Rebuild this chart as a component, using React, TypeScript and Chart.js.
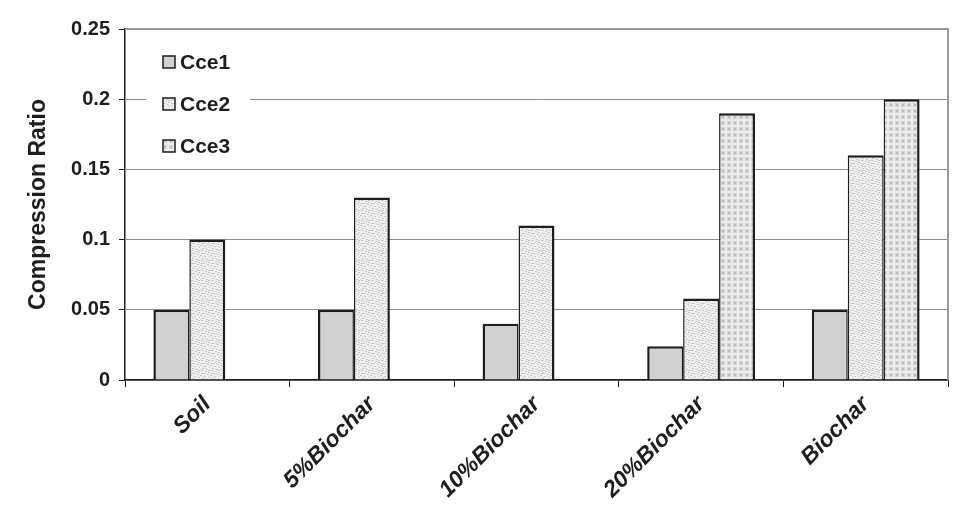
import React, { useEffect, useRef } from 'react';
import { Chart, registerables } from 'chart.js';

Chart.register(...registerables);

const categories = ['Soil', '5%Biochar', '10%Biochar', '20%Biochar', 'Biochar'];
const seriesNames = ['Cce1', 'Cce2', 'Cce3'];
const cce1 = [0.05, 0.05, 0.04, 0.024, 0.05];
const cce2 = [0.1, 0.13, 0.11, 0.058, 0.16];
const cce3: (number | null)[] = [null, null, null, 0.19, 0.2];
const yTickLabels = ['0', '0.05', '0.1', '0.15', '0.2', '0.25'];

const FONT = '"Liberation Sans", Arial, Helvetica, sans-serif';
const INK = '#1e1e1e';

function makeStipple(): CanvasPattern | string {
  const c = document.createElement('canvas');
  c.width = 10;
  c.height = 10;
  const g = c.getContext('2d');
  if (!g) return '#e6e6e6';
  g.fillStyle = '#f1f1f1';
  g.fillRect(0, 0, 10, 10);
  g.fillStyle = '#c6c6c6';
  const dots = [
    [1, 0], [5, 1], [8, 0], [3, 3], [7, 4], [0, 5], [4, 6], [9, 7], [2, 8], [6, 9], [8, 2], [1, 3],
  ];
  dots.forEach(([x, y]) => g.fillRect(x, y, 2, 1));
  g.fillStyle = '#d8d8d8';
  const dots2 = [[3, 0], [6, 3], [2, 6], [8, 6], [5, 8], [0, 9]];
  dots2.forEach(([x, y]) => g.fillRect(x, y, 1, 1));
  return g.createPattern(c, 'repeat') || '#e6e6e6';
}

function makeGrid(): CanvasPattern | string {
  const c = document.createElement('canvas');
  c.width = 6;
  c.height = 6;
  const g = c.getContext('2d');
  if (!g) return '#dddddd';
  g.fillStyle = '#ececec';
  g.fillRect(0, 0, 6, 6);
  g.fillStyle = '#d4d4d4';
  g.fillRect(1, 1, 4, 4);
  g.fillStyle = '#bcbcbc';
  g.fillRect(2, 2, 2, 2);
  return g.createPattern(c, 'repeat') || '#dddddd';
}

export default function App() {
  const ref = useRef<HTMLCanvasElement>(null);

  useEffect(() => {
    document.body.style.margin = '0';
    const canvas = ref.current;
    if (!canvas) return;
    const fills = ['#d1d1d1', makeStipple(), makeGrid()];
    const values = [cce1, cce2, cce3];

    const borderFor = (ctx: any) => {
      const di = ctx.datasetIndex;
      const i = ctx.dataIndex;
      const prev = di > 0 ? values[di - 1][i] : null;
      const next = di < 2 ? values[di + 1][i] : null;
      return {
        top: 2.5,
        bottom: 0,
        left: prev == null ? 2.5 : 1.5,
        right: next == null ? 2.5 : 1.5,
      };
    };

    const framePlugin = {
      id: 'frame',
      afterDraw(chart: any) {
        const { ctx, chartArea } = chart;
        ctx.save();
        ctx.strokeStyle = '#9a9a9a';
        ctx.lineWidth = 2;
        ctx.beginPath();
        ctx.moveTo(chartArea.left, chartArea.top);
        ctx.lineTo(chartArea.right, chartArea.top);
        ctx.lineTo(chartArea.right, chartArea.bottom);
        ctx.stroke();
        ctx.restore();
      },
    };

    const legendPlugin = {
      id: 'insideLegend',
      afterDraw(chart: any) {
        const { ctx } = chart;
        ctx.save();
        ctx.fillStyle = '#ffffff';
        ctx.fillRect(146, 38, 104, 126);
        const ys = [62, 104, 146];
        chart.data.datasets.forEach((ds: any, k: number) => {
          const y = ys[k];
          ctx.fillStyle = ds.backgroundColor;
          ctx.fillRect(163, y - 6, 12, 12);
          ctx.strokeStyle = INK;
          ctx.lineWidth = 1.5;
          ctx.strokeRect(163, y - 6, 12, 12);
          ctx.fillStyle = INK;
          ctx.font = `bold 21px ${FONT}`;
          ctx.textBaseline = 'middle';
          ctx.textAlign = 'left';
          ctx.fillText(ds.label, 180, y + 1);
        });
        ctx.restore();
      },
    };

    const chart = new Chart(canvas, {
      type: 'bar',
      data: {
        labels: categories,
        datasets: values.map((v, k) => ({
          label: seriesNames[k],
          data: v,
          backgroundColor: fills[k] as any,
          borderColor: INK,
          borderWidth: borderFor as any,
          borderSkipped: false as any,
          categoryPercentage: 0.655,
          barPercentage: 1,
        })),
      },
      options: {
        animation: false,
        responsive: true,
        maintainAspectRatio: false,
        layout: { padding: { left: 0, top: 29, right: 24, bottom: 0 } },
        plugins: {
          legend: { display: false },
          tooltip: { enabled: false },
          title: { display: false },
        },
        scales: {
          x: {
            offset: true,
            grid: {
              offset: true,
              drawOnChartArea: false,
              drawTicks: true,
              tickLength: 7,
              color: INK,
              lineWidth: 1,
            },
            border: { display: true, color: INK, width: 1.5 },
            ticks: {
              autoSkip: false,
              maxRotation: 45,
              minRotation: 45,
              padding: 4,
              color: INK,
              font: { family: FONT, size: 23, weight: 'bold', style: 'italic' },
            },
            afterFit: (s: any) => {
              s.height = 150;
            },
          },
          y: {
            min: 0,
            max: 0.25,
            ticks: {
              stepSize: 0.05,
              padding: 9,
              color: INK,
              font: { family: FONT, size: 20, weight: 'bold' },
              callback: (_v: any, i: number) => yTickLabels[i],
            },
            grid: {
              color: '#8c8c8c',
              lineWidth: 1,
              tickLength: 6,
              tickColor: INK,
              drawTicks: true,
            },
            border: { display: true, color: INK, width: 1.5 },
            title: {
              display: true,
              text: 'Compression Ratio',
              color: INK,
              font: { family: FONT, size: 23, weight: 'bold' },
              padding: { top: 25, bottom: 4 },
            },
            afterFit: (s: any) => {
              s.width = 125;
            },
          },
        },
      },
      plugins: [framePlugin, legendPlugin],
    });

    return () => chart.destroy();
  }, []);

  return (
    <div style={{ width: 972, height: 530, position: 'relative', background: '#fff' }}>
      <canvas ref={ref} />
    </div>
  );
}
